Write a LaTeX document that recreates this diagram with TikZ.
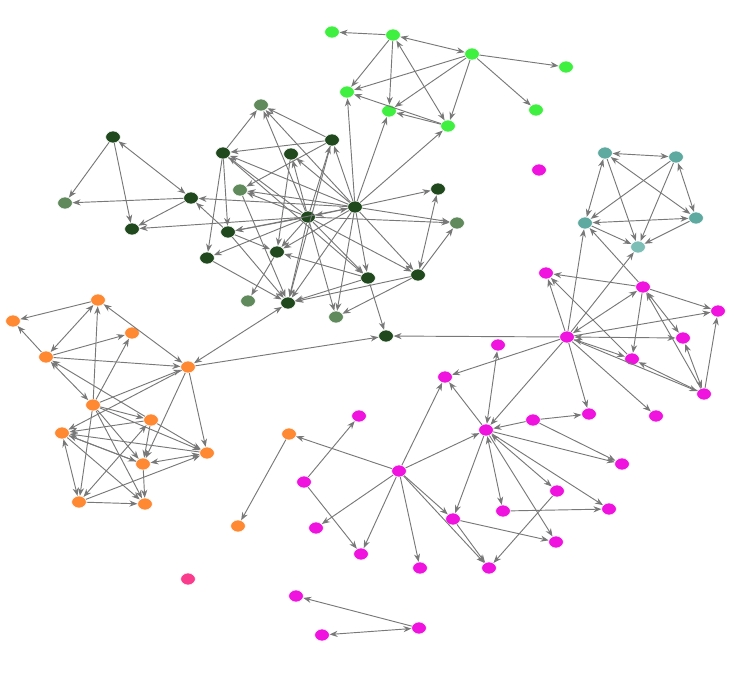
\documentclass[tikz,border=0pt]{standalone}
\usetikzlibrary{shapes.geometric,arrows.meta}
\definecolor{gb}{RGB}{64,240,64}
\definecolor{dg}{RGB}{32,74,30}
\definecolor{lg}{RGB}{96,138,92}
\definecolor{og}{RGB}{255,136,51}
\definecolor{tl}{RGB}{95,170,160}
\definecolor{tll}{RGB}{125,190,182}
\definecolor{mg}{RGB}{240,18,222}
\definecolor{pr}{RGB}{250,60,140}
\definecolor{eg}{RGB}{120,120,120}
\tikzset{
 nd/.style={ellipse, minimum width=11pt, minimum height=9pt, inner sep=0pt, draw=white, line width=0.4pt},
 e/.style={draw=eg, line width=0.7pt, -{Stealth[length=6pt,width=4.6pt]}},
 bi/.style={draw=eg, line width=0.7pt, {Stealth[length=6pt,width=4.6pt]}-{Stealth[length=6pt,width=4.6pt]}},
}
\begin{document}
\begin{tikzpicture}[x=0.75pt,y=-0.75pt]
\useasboundingbox (0,0) rectangle (748,682);
% bright green
\node[nd,fill=gb] (G1) at (332,32) {};
\node[nd,fill=gb] (G2) at (393,35) {};
\node[nd,fill=gb] (G3) at (472,54) {};
\node[nd,fill=gb] (G4) at (566,67) {};
\node[nd,fill=gb] (G5) at (347,92) {};
\node[nd,fill=gb] (G6) at (389,111) {};
\node[nd,fill=gb] (G7) at (448,126) {};
\node[nd,fill=gb] (G8) at (536,110) {};
% dark green
\node[nd,fill=lg] (Da) at (261,105) {};
\node[nd,fill=dg] (Db) at (332,140) {};
\node[nd,fill=dg] (Dc) at (223,153) {};
\node[nd,fill=dg] (Dd) at (291,154) {};
\node[nd,fill=lg] (De) at (240,190) {};
\node[nd,fill=dg] (H) at (355,207) {};
\node[nd,fill=dg] (Df) at (438,189) {};
\node[nd,fill=dg] (Dg) at (308,217) {};
\node[nd,fill=lg] (Dh) at (457,223) {};
\node[nd,fill=dg] (Di) at (228,232) {};
\node[nd,fill=dg] (Dj) at (277,252) {};
\node[nd,fill=dg] (Dk) at (207,258) {};
\node[nd,fill=dg] (Dl) at (368,278) {};
\node[nd,fill=dg] (Dm) at (418,275) {};
\node[nd,fill=lg] (Dn) at (248,301) {};
\node[nd,fill=dg] (Do) at (288,303) {};
\node[nd,fill=lg] (Dp) at (336,317) {};
\node[nd,fill=dg] (Dq) at (386,336) {};
\node[nd,fill=dg] (Dr) at (113,137) {};
\node[nd,fill=lg] (Ds) at (65,203) {};
\node[nd,fill=dg] (Dt) at (191,198) {};
\node[nd,fill=dg] (Du) at (132,229) {};
% orange
\node[nd,fill=og] (O1) at (98,300) {};
\node[nd,fill=og] (O2) at (13,321) {};
\node[nd,fill=og] (O3) at (132,333) {};
\node[nd,fill=og] (O4) at (46,357) {};
\node[nd,fill=og] (O5) at (188,367) {};
\node[nd,fill=og] (O6) at (93,405) {};
\node[nd,fill=og] (O7) at (151,420) {};
\node[nd,fill=og] (O8) at (62,433) {};
\node[nd,fill=og] (O9) at (207,453) {};
\node[nd,fill=og] (O10) at (143,464) {};
\node[nd,fill=og] (O11) at (79,502) {};
\node[nd,fill=og] (O12) at (145,504) {};
\node[nd,fill=og] (O13) at (289,434) {};
\node[nd,fill=og] (O14) at (238,526) {};
\node[nd,fill=pr] (R1) at (188,579) {};
% teal
\node[nd,fill=tl] (T1) at (605,153) {};
\node[nd,fill=tl] (T2) at (676,157) {};
\node[nd,fill=tl] (T3) at (585,223) {};
\node[nd,fill=tl] (T4) at (696,218) {};
\node[nd,fill=tll] (T5) at (638,247) {};
% magenta
\node[nd,fill=mg] (P0) at (539,170) {};
\node[nd,fill=mg] (Pa) at (546,273) {};
\node[nd,fill=mg] (Pb) at (643,287) {};
\node[nd,fill=mg] (Pc) at (718,311) {};
\node[nd,fill=mg] (Ph0) at (567,337) {};
\node[nd,fill=mg] (Pd) at (683,338) {};
\node[nd,fill=mg] (Pe) at (632,359) {};
\node[nd,fill=mg] (Pf) at (704,394) {};
\node[nd,fill=mg] (Pg) at (498,345) {};
\node[nd,fill=mg] (Ph) at (445,377) {};
\node[nd,fill=mg] (Pi) at (589,414) {};
\node[nd,fill=mg] (Pj) at (656,416) {};
\node[nd,fill=mg] (Pk) at (486,430) {};
\node[nd,fill=mg] (Pl) at (533,420) {};
\node[nd,fill=mg] (Pm) at (622,464) {};
\node[nd,fill=mg] (Pn) at (557,491) {};
\node[nd,fill=mg] (Po) at (503,511) {};
\node[nd,fill=mg] (Pp) at (609,509) {};
\node[nd,fill=mg] (Pq) at (453,519) {};
\node[nd,fill=mg] (Pr) at (556,542) {};
\node[nd,fill=mg] (Ps) at (489,568) {};
\node[nd,fill=mg] (Pt) at (359,416) {};
\node[nd,fill=mg] (Pu) at (399,471) {};
\node[nd,fill=mg] (Pv) at (304,482) {};
\node[nd,fill=mg] (Pw) at (316,528) {};
\node[nd,fill=mg] (Px) at (361,554) {};
\node[nd,fill=mg] (Py) at (420,568) {};
\node[nd,fill=mg] (Pz) at (296,596) {};
\node[nd,fill=mg] (Pz2) at (419,628) {};
\node[nd,fill=mg] (Pz3) at (322,635) {};
% green edges
\foreach \a/\b in {G2/G1,G3/G4,G3/G8,G2/G5,G2/G6,G3/G5,G3/G6,G3/G7,G7/G5,G7/G6,H/G5,H/G6,H/G7}
  \draw[e] (\a) -- (\b);
\foreach \a/\b in {G2/G3,G2/G7}
  \draw[bi] (\a) -- (\b);
% dark green edges
\foreach \a/\b in {Dc/Da,Db/Da,Dg/Da,H/Da,Db/Dc,Db/De,Dg/Db,H/Db,Dg/Dc,H/Dc,Dg/Dd,H/Dd,H/Dt,H/De,Dg/De,Dc/Di,Dc/Dk,Dg/Di,Dg/Dk,H/Di,Di/Dj,Di/Do,Dk/Do,Dg/Dj,H/Dj,Dl/Dj,Dj/Dn,Dg/Do,H/Do,Dl/Do,Dm/Do,H/Dp,Dg/Dp,Dm/Dp,H/Dl,Dg/Dl,Dc/Dl,Dg/Du,H/Df,H/Dh,Dg/Dh,Dm/Dh,H/Dm,Dg/Dm,Dl/Dq,Db/Do,Dr/Ds,Dr/Du,Dt/Ds,Dt/Du,Di/Dt,Dd/Dj,De/Do}
  \draw[e] (\a) -- (\b);
\foreach \a/\b in {Dm/Df,H/Dg,Dr/Dt}
  \draw[bi] (\a) -- (\b);
% orange edges
\foreach \a/\b in {O1/O2,O6/O1,O4/O2,O4/O3,O4/O5,O6/O3,O6/O5,O6/O7,O6/O10,O6/O12,O6/O11,O7/O4,O5/O9,O5/O10,O5/O8,O7/O8,O9/O8,O10/O8,O11/O12,O11/O9,O10/O12,O7/O10,O7/O9,O8/O12,O8/O10,O5/Dq,O13/O14,O6/O9}
  \draw[e] (\a) -- (\b);
\foreach \a/\b in {O1/O4,O5/O1,O4/O6,O8/O11,O11/O7,O10/O9,O5/Do}
  \draw[bi] (\a) -- (\b);
% teal edges
\foreach \a/\b in {T1/T5,T2/T3,T2/T5,T3/T5,T4/T5,Ph0/T3,Ph0/T5,Pb/T3}
  \draw[e] (\a) -- (\b);
\foreach \a/\b in {T1/T2,T1/T3,T4/T1,T2/T4,T3/T4}
  \draw[bi] (\a) -- (\b);
% magenta edges
\foreach \a/\b in {Ph0/Dq,Ph0/Pa,Pb/Pa,Pb/Pc,Pb/Pe,Pf/Pb,Ph0/Pc,Pf/Pe,Ph0/Pf,Pf/Pc,Pe/Pa,Ph0/Pi,Ph0/Pj,Ph0/Ph,Ph0/Pk,Pk/Ph,Pu/Ph,Pl/Pi,Pl/Pk,Pl/Pm,Pk/Pm,Pk/Pq,Pk/Pp,Pk/Pr,Pu/Pk,Po/Pp,Pn/Ps,Pq/Pr,Pq/Ps,Pu/Pq,Pu/Ps,Pv/Pt,Pv/Px,Pu/O13,Pu/Pw,Pu/Px,Pu/Py,Pz2/Pz}
  \draw[e] (\a) -- (\b);
\foreach \a/\b in {Ph0/Pb,Pb/Pd,Ph0/Pd,Ph0/Pe,Pf/Pd,Pg/Pk,Pk/Po,Pk/Pn,Pz2/Pz3}
  \draw[bi] (\a) -- (\b);
\end{tikzpicture}
\end{document}
